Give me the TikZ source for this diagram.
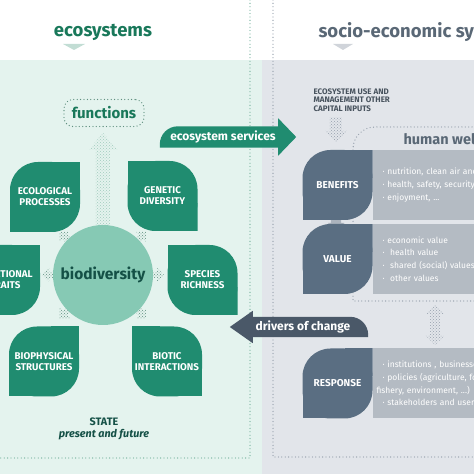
\documentclass[tikz,border=0pt]{standalone}
\usepackage{fontspec}
\setmainfont{Fira Sans}
\usetikzlibrary{shapes.arrows, positioning, calc, patterns}
\pgfdeclarelayer{back}
\pgfdeclarelayer{mid}
\pgfsetlayers{back,mid,main}

\definecolor{panelgreen}{RGB}{228,243,238}
\definecolor{panelgray}{RGB}{226,229,234}
\definecolor{leafgreen}{RGB}{32,140,112}
\definecolor{leafslate}{RGB}{90,110,130}
\definecolor{arrowslate}{RGB}{74,88,104}
\definecolor{barslate}{RGB}{180,187,195}
\definecolor{biocircle}{RGB}{134,201,180}
\definecolor{darkteal}{RGB}{20,80,70}
\definecolor{titlegreen}{RGB}{25,120,90}
\definecolor{titleslate}{RGB}{90,104,118}
\definecolor{dotgreen}{RGB}{120,180,160}
\definecolor{dotgray}{RGB}{150,160,172}

\begin{document}
\begin{tikzpicture}[x=1pt, y=1pt]
  \newcommand\leafrad{28}
  \newcommand\leafsize{70}
  \newcommand\barlen{180}

  \tikzset{leafbase/.style={minimum width=\leafsize, minimum height=\leafsize, inner sep=0, outer sep=0, align=center, text=white, font=\fontsize{9.8}{11}\selectfont\bfseries}}
  \tikzset{leafa/.style={leafbase, path picture={
    \fill[#1, rounded corners=\leafrad] (path picture bounding box.south west) rectangle (path picture bounding box.north east);
    \fill[#1] (path picture bounding box.north east) rectangle ++(-\leafrad, -\leafrad);
    \fill[#1] (path picture bounding box.south west) rectangle ++(\leafrad, \leafrad);}}}
  \tikzset{leafb/.style={leafbase, path picture={
    \fill[#1, rounded corners=\leafrad] (path picture bounding box.south west) rectangle (path picture bounding box.north east);
    \fill[#1] (path picture bounding box.north west) rectangle ++(\leafrad, -\leafrad);
    \fill[#1] (path picture bounding box.south east) rectangle ++(-\leafrad, \leafrad);}}}
  \tikzset{bar/.style={fill=barslate, minimum width=\barlen, minimum height=\leafsize, inner xsep=10, outer sep=0, text width=160, align=left, text=white, font=\fontsize{8.5}{12.7}\selectfont}}
  \tikzset{dotarrow/.style={single arrow, pattern=crosshatch dots, pattern color=#1, inner xsep=0, outer sep=0}}
  \tikzset{dotline/.style={draw=#1, line width=1.3, line cap=round, dash pattern=on 0pt off 3.4pt}}
  \tikzset{bigarrow/.style={text=white, font=\fontsize{12}{14}\selectfont\bfseries, minimum height=21, inner sep=0}}

  \useasboundingbox (0, 0) rectangle (474, 474);
  \clip (0, 0) rectangle (474, 474);

  % panels and dividers
  \begin{pgfonlayer}{back}
    \fill[panelgreen] (0, 0) rectangle (262, 414);
    \fill[panelgray] (262, 0) rectangle (474, 414);
    \draw[dotline=dotgreen] (250, 474) -- (250, 16) -- (0, 16);
    \draw[dotline=dotgray] (273, 474) -- (273, 17) -- (474, 17);
    % human well-being frame
    \draw[dotline=dotgray] (474, 173) -- (353, 173) -- (353, 325) arc[start angle=180, end angle=90, radius=22] -- (474, 347);
  \end{pgfonlayer}

  % titles
  \node[font=\fontsize{18.5}{21}\selectfont\bfseries, text=titlegreen] (eco) at (103, 442) {ecosystems};
  \fill[dotgreen!45] (63, 430) -- (85, 430) -- (74, 424) -- cycle;
  \node[anchor=west, font=\fontsize{18.5}{21}\selectfont\bfseries, text=titleslate] (soc) at (315, 442) {socio-economic systems};
  \fill[dotgray!45] (333, 430) -- (353, 430) -- (343, 424) -- cycle;

  % ecosystem side
  \node[circle, fill=biocircle, minimum size=100, font=\fontsize{15.5}{17}\selectfont\bfseries, text=darkteal] (bd) at (103, 199) {biodiversity};
  \node[dotline=dotgreen!80!black, rounded corners=9, minimum width=80, minimum height=27, font=\fontsize{15}{17}\selectfont\bfseries, text=titlegreen] (fn) at (104, 361) {functions};
  \node[dotarrow=dotgreen!70, rotate=90, anchor=tail, minimum height=92, inner ysep=7, single arrow head extend=7, single arrow tip angle=80] (uparrow) at (bd.north) {};
  \foreach \ang in {0, 45, 135, 180, 225, 315}{
    \node[dotarrow=dotgreen!80!black, rotate=\ang, anchor=tail, minimum height=11, inner ysep=3, single arrow head extend=4] at (bd.\ang) {};
  }

  \foreach \id/\x/\y/\kind/\txt in {1/45/277/leafa/{ECOLOGICAL\\PROCESSES}, 2/162.5/278/leafb/{GENETIC\\DIVERSITY}, 3/5/194/leafa/{FUNCTIONAL\\TRAITS}, 4/202.5/194/leafb/{SPECIES\\RICHNESS}, 5/44/112.5/leafa/{BIOPHYSICAL\\STRUCTURES}, 6/167/112.5/leafb/{BIOTIC\\INTERACTIONS}}{
    \node[\kind=leafgreen] (lf\id) at (\x, \y) {\txt};
  }

  \node[align=center, text=darkteal, font=\fontsize{10.8}{11.5}\selectfont\bfseries] (st) at (104, 45) {STATE\\\textit{present and future}};

  % socio-economic side
  \node[anchor=west, align=left, font=\fontsize{8}{8.7}\selectfont\bfseries, text=titleslate!80!black] (eu) at (310, 374) {ECOSYSTEM USE AND\\MANAGEMENT OTHER\\CAPITAL INPUTS};
  \node[dotarrow=dotgray, rotate=-90, anchor=tail, minimum height=25, inner ysep=6, single arrow head extend=5] (euarrow) at ($(eu.south west)+(26, -2)$) {};
  \node[anchor=west, font=\fontsize{14.5}{16}\selectfont\bfseries, text=titleslate] (hw) at (400, 334) {human well-being};

  \node[single arrow, fill=dotgray!80, rotate=-90, minimum height=17, inner ysep=5, single arrow head extend=3] (bvarrow) at (336, 254) {};
  \foreach \id/\y/\txt in {1/289/BENEFITS, 2/215/VALUE, 3/90.5/RESPONSE}{
    \node[leafa=leafslate, font=\fontsize{10}{11}\selectfont\bfseries] (rl\id) at (337.5, \y) {\txt};
  }
  \node[bar, right=0 of rl1] (bar1) {· nutrition, clean air and water\\· health, safety, security\\· enjoyment, ...};
  \node[bar, right=0 of rl2] (bar2) {· economic value\\·~ health value\\·~ shared (social) values\\·~ other values};
  \node[bar, right=0 of rl3] (bar3) {· institutions , businesses\\· policies (agriculture, forestry,\\\hspace*{-6pt}fishery, environment, ...)\\· stakeholders and users};
  \node[double arrow, pattern=crosshatch dots, pattern color=dotgray, rotate=90, minimum height=40, inner xsep=0, inner ysep=5, double arrow head extend=4] (vrarrow) at (435, 149) {};

  % big arrows
  \node[bigarrow, minimum width=110] (es) at (223, 337) {ecosystem services};
  \node[bigarrow, minimum width=100, minimum height=20] (dc) at (303, 147) {drivers of change};
  \begin{pgfonlayer}{mid}
    \fill[leafgreen] ($(es.south west)+(-8, 0)$) -- ($(es.north west)+(-8, -18)$) arc[start angle=180, end angle=90, radius=18] -- (es.north east) -- ++(0, 8) -- ($(es.east)+(18, 0)$) -- ($(es.south east)+(0, -8)$) -- (es.south east) -- cycle;
    \fill[arrowslate] ($(dc.south east)+(15, 0)$) -- ($(dc.north east)+(15, -18)$) arc[start angle=0, end angle=90, radius=18] -- (dc.north west) -- ++(0, 6) -- ($(dc.west)+(-23, 0)$) -- ($(dc.south west)+(0, -6)$) -- (dc.south west) -- cycle;
  \end{pgfonlayer}
\end{tikzpicture}
\end{document}
